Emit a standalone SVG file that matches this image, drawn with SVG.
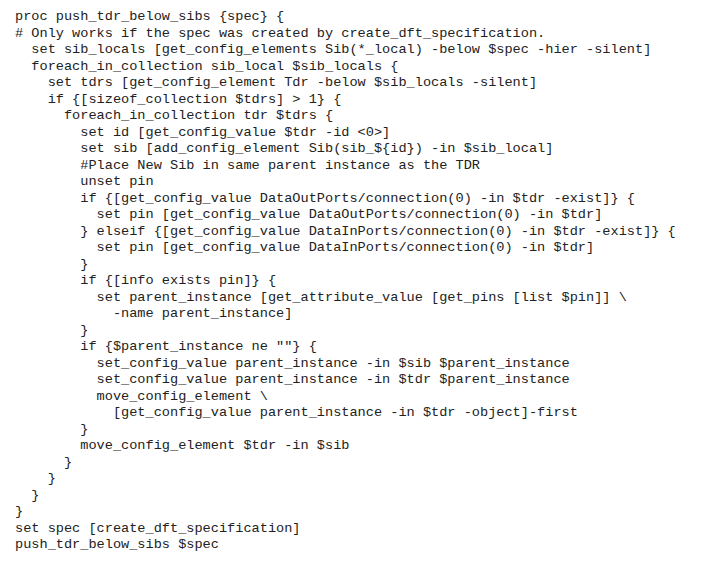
<svg xmlns="http://www.w3.org/2000/svg" width="703" height="570" viewBox="0 0 703 570">
<style>text{font-family:"Liberation Mono","Courier New",monospace;font-size:13.6px;fill:#222;white-space:pre}</style>
<rect width="703" height="570" fill="#fff"/>
<g id="code" xml:space="preserve">
<text x="15" y="20">proc push_tdr_below_sibs {spec} {</text>
<text x="15" y="36.5"># Only works if the spec was created by create_dft_specification.</text>
<text x="15" y="53">  set sib_locals [get_config_elements Sib(*_local) -below $spec -hier -silent]</text>
<text x="15" y="69.5">  foreach_in_collection sib_local $sib_locals {</text>
<text x="15" y="86">    set tdrs [get_config_element Tdr -below $sib_locals -silent]</text>
<text x="15" y="102.5">    if {[sizeof_collection $tdrs] &gt; 1} {</text>
<text x="15" y="119">      foreach_in_collection tdr $tdrs {</text>
<text x="15" y="135.5">        set id [get_config_value $tdr -id &lt;0&gt;]</text>
<text x="15" y="152">        set sib [add_config_element Sib(sib_${id}) -in $sib_local]</text>
<text x="15" y="168.5">        #Place New Sib in same parent instance as the TDR</text>
<text x="15" y="185">        unset pin</text>
<text x="15" y="201.5">        if {[get_config_value DataOutPorts/connection(0) -in $tdr -exist]} {</text>
<text x="15" y="218">          set pin [get_config_value DataOutPorts/connection(0) -in $tdr]</text>
<text x="15" y="234.5">        } elseif {[get_config_value DataInPorts/connection(0) -in $tdr -exist]} {</text>
<text x="15" y="251">          set pin [get_config_value DataInPorts/connection(0) -in $tdr]</text>
<text x="15" y="267.5">        }</text>
<text x="15" y="284">        if {[info exists pin]} {</text>
<text x="15" y="300.5">          set parent_instance [get_attribute_value [get_pins [list $pin]] \</text>
<text x="15" y="317">            -name parent_instance]</text>
<text x="15" y="333.5">        }</text>
<text x="15" y="350">        if {$parent_instance ne ""} {</text>
<text x="15" y="366.5">          set_config_value parent_instance -in $sib $parent_instance</text>
<text x="15" y="383">          set_config_value parent_instance -in $tdr $parent_instance</text>
<text x="15" y="399.5">          move_config_element \</text>
<text x="15" y="416">            [get_config_value parent_instance -in $tdr -object]-first</text>
<text x="15" y="432.5">        }</text>
<text x="15" y="449">        move_config_element $tdr -in $sib</text>
<text x="15" y="465.5">      }</text>
<text x="15" y="482">    }</text>
<text x="15" y="498.5">  }</text>
<text x="15" y="515">}</text>
<text x="15" y="531.5">set spec [create_dft_specification]</text>
<text x="15" y="548">push_tdr_below_sibs $spec</text>
</g>
</svg>
